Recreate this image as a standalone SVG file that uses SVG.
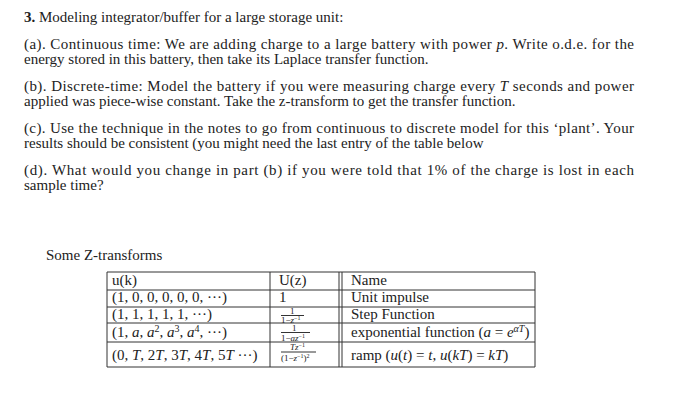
<svg xmlns="http://www.w3.org/2000/svg" width="700" height="419" viewBox="0 0 700 419">
<style>
text{font-family:"Liberation Serif","DejaVu Serif",serif;font-size:15px;fill:#222}
.m{font-style:italic}
.s{font-size:10px}
.t{font-size:9px}
line{stroke:#333;stroke-width:1}
</style>
<rect width="700" height="419" fill="#fff"/>
<text x="24" y="22"><tspan font-weight="bold">3.</tspan> Modeling integrator/buffer for a large storage unit:</text>
<text x="24" y="49" textLength="610" lengthAdjust="spacing">(a). Continuous time: We are adding charge to a large battery with power <tspan class="m">p</tspan>. Write o.d.e. for the</text>
<text x="24" y="64">energy stored in this battery, then take its Laplace transfer function.</text>
<text x="24" y="91" textLength="610" lengthAdjust="spacing">(b). Discrete-time: Model the battery if you were measuring charge every <tspan class="m">T</tspan> seconds and power</text>
<text x="24" y="106">applied was piece-wise constant. Take the z-transform to get the transfer function.</text>
<text x="24" y="133" textLength="610" lengthAdjust="spacing">(c). Use the technique in the notes to go from continuous to discrete model for this ‘plant’. Your</text>
<text x="24" y="148">results should be consistent (you might need the last entry of the table below</text>
<text x="24" y="175" textLength="610" lengthAdjust="spacing">(d). What would you change in part (b) if you were told that 1% of the charge is lost in each</text>
<text x="24" y="190">sample time?</text>
<text x="46" y="260">Some Z-transforms</text>
<g id="table">
<line x1="107" y1="272" x2="535" y2="272"/>
<line x1="107" y1="290" x2="535" y2="290"/>
<line x1="107" y1="307" x2="535" y2="307"/>
<line x1="107" y1="323" x2="535" y2="323"/>
<line x1="107" y1="342" x2="535" y2="342"/>
<line x1="107" y1="367" x2="535" y2="367"/>
<line x1="107" y1="272" x2="107" y2="367"/>
<line x1="270" y1="272" x2="270" y2="367"/>
<line x1="339" y1="272" x2="339" y2="367"/>
<line x1="342" y1="272" x2="342" y2="367"/>
<line x1="535" y1="272" x2="535" y2="367"/>
</g>
<text x="112" y="285">u(k)</text>
<text x="112" y="302">(1, 0, 0, 0, 0, 0, ···)</text>
<text x="112" y="319">(1, 1, 1, 1, 1, ···)</text>
<text x="112" y="337">(1, <tspan class="m">a</tspan>, <tspan class="m">a</tspan><tspan class="s" dy="-5">2</tspan><tspan dy="5">, </tspan><tspan class="m">a</tspan><tspan class="s" dy="-5">3</tspan><tspan dy="5">, </tspan><tspan class="m">a</tspan><tspan class="s" dy="-5">4</tspan><tspan dy="5">, ···)</tspan></text>
<text x="112" y="360">(0, <tspan class="m">T</tspan>, 2<tspan class="m">T</tspan>, 3<tspan class="m">T</tspan>, 4<tspan class="m">T</tspan>, 5<tspan class="m">T</tspan> ···)</text>
<text x="279" y="285">U(z)</text>
<text x="279" y="302">1</text>
<g class="frac">
<text class="t" x="290" y="314">1</text>
<line x1="281" y1="315.5" x2="304" y2="315.5" stroke-width="0.6"/>
<text class="t" x="281" y="322.5">1−<tspan class="m">z</tspan><tspan font-size="6" dy="-3">−1</tspan></text>
<text class="t" x="292" y="331">1</text>
<line x1="281" y1="332.5" x2="310" y2="332.5" stroke-width="0.6"/>
<text class="t" x="281" y="340.5">1−<tspan class="m">az</tspan><tspan font-size="6" dy="-3">−1</tspan></text>
<text class="t" x="290" y="350"><tspan class="m">Tz</tspan><tspan font-size="6" dy="-3">−1</tspan></text>
<line x1="281" y1="352" x2="316" y2="352" stroke-width="0.6"/>
<text class="t" x="281" y="361">(1−<tspan class="m">z</tspan><tspan font-size="6" dy="-3">−1</tspan><tspan dy="3">)</tspan><tspan font-size="6" dy="-3">2</tspan></text>
</g>
<text x="351" y="285">Name</text>
<text x="351" y="302">Unit impulse</text>
<text x="351" y="319">Step Function</text>
<text x="351" y="337">exponential function (<tspan class="m">a</tspan> = <tspan class="m">e</tspan><tspan class="s" dy="-5"><tspan class="m">αT</tspan></tspan><tspan dy="5">)</tspan></text>
<text x="351" y="360">ramp (<tspan class="m">u</tspan>(<tspan class="m">t</tspan>) = <tspan class="m">t</tspan>, <tspan class="m">u</tspan>(<tspan class="m">kT</tspan>) = <tspan class="m">kT</tspan>)</text>
</svg>
